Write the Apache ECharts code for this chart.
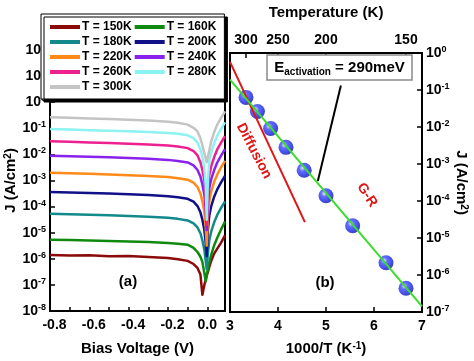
<!DOCTYPE html>
<html><head><meta charset="utf-8">
<script src="https://cdn.jsdelivr.net/npm/echarts@6/dist/echarts.min.js"></script>
<style>html,body{margin:0;padding:0;background:#fff}#c{width:474px;height:361px}</style>
</head><body><div id="c"></div>
<script>
// ---------- Panel (a): J-V curves (values stored as log10 J) ----------
const biasV = [-0.8,-0.7,-0.6,-0.5,-0.4,-0.3,-0.2,-0.15,-0.1,-0.07,-0.05,-0.035,-0.025,-0.015,-0.008,-0.003,0.003,0.01,0.02,0.035,0.05,0.07,0.09];
const curveNames = ['T = 150K','T = 160K','T = 180K','T = 200K','T = 220K','T = 240K','T = 260K','T = 280K','T = 300K'];
const curveColors = ['#8b0a0a','#0f8a0f','#12898a','#101088','#ff8a1a','#8a22ee','#ee2090','#8cf2f2','#c4c4c4'];
const logJ150 = [-5.85,-5.87,-5.86,-5.90,-5.89,-5.93,-5.97,-6.02,-6.08,-6.20,-6.35,-6.60,-7.38,-7.00,-6.80,-6.65,-6.50,-6.32,-6.08,-5.80,-5.62,-5.38,-5.10];
const logJ160 = [-5.27,-5.28,-5.30,-5.32,-5.34,-5.36,-5.39,-5.42,-5.46,-5.58,-5.74,-5.92,-6.12,-6.55,-6.86,-6.60,-6.40,-6.15,-5.85,-5.48,-5.20,-4.88,-4.57];
const logJ180 = [-4.27,-4.29,-4.31,-4.33,-4.36,-4.39,-4.43,-4.47,-4.53,-4.64,-4.80,-5.02,-5.30,-5.65,-6.10,-6.40,-5.80,-5.30,-4.95,-4.60,-4.33,-4.05,-3.80];
const logJ200 = [-3.44,-3.46,-3.48,-3.50,-3.53,-3.56,-3.60,-3.64,-3.70,-3.81,-3.98,-4.22,-4.50,-4.90,-5.40,-5.90,-4.90,-4.35,-3.98,-3.62,-3.35,-3.07,-2.82];
const logJ220 = [-2.70,-2.72,-2.74,-2.77,-2.80,-2.83,-2.87,-2.91,-2.97,-3.08,-3.25,-3.50,-3.80,-4.20,-4.80,-5.50,-4.40,-3.80,-3.42,-3.05,-2.78,-2.50,-2.25];
const logJ240 = [-2.05,-2.07,-2.09,-2.11,-2.14,-2.17,-2.21,-2.25,-2.31,-2.42,-2.60,-2.85,-3.15,-3.55,-4.10,-4.90,-3.90,-3.30,-2.95,-2.60,-2.32,-2.05,-1.80];
const logJ260 = [-1.50,-1.52,-1.54,-1.56,-1.59,-1.62,-1.66,-1.70,-1.76,-1.87,-2.04,-2.30,-2.60,-3.00,-3.60,-4.70,-3.40,-2.80,-2.45,-2.10,-1.82,-1.55,-1.30];
const logJ280 = [-1.03,-1.05,-1.07,-1.09,-1.11,-1.14,-1.18,-1.21,-1.27,-1.38,-1.55,-1.80,-2.10,-2.50,-3.20,-4.50,-3.00,-2.27,-1.92,-1.57,-1.29,-1.02,-0.77];
const logJ300 = [-0.58,-0.60,-0.62,-0.64,-0.67,-0.70,-0.75,-0.79,-0.86,-0.98,-1.12,-1.38,-1.65,-1.95,-2.15,-2.30,-2.10,-1.85,-1.50,-1.15,-0.87,-0.60,-0.35];
const biasTickLabels = [-0.8,-0.6,-0.4,-0.2,0.0];
const biasTicks = [-0.8,-0.7,-0.6,-0.5,-0.4,-0.3,-0.2,-0.1,0.0];
const leftDecades = [1e-8,1e-7,1e-6,1e-5,1e-4,1e-3,1e-2,1e-1,1,10,100];

// ---------- Panel (b): Arrhenius plot ----------
const arrTemps = [300,280,260,240,220,200,180,160,150];
const arrLogJ = [-1.20,-1.58,-2.04,-2.55,-3.17,-3.86,-4.67,-5.67,-6.36];
const diffusionX = [3.0,4.56];
const diffusionLogJ = [-0.24,-4.57];
const grX = [3.0,7.0];
const grLogJ = [-0.72,-6.85];
const arrowX = [5.31,4.83];
const arrowLogJ = [-0.88,-3.46];
const tempTickLabels = [300,250,200,150];
const invTTicks = [3,4,5,6,7];
const rightDecades = [1e-7,1e-6,1e-5,1e-4,1e-3,1e-2,1e-1,1];

const FF = '"Liberation Sans", Arial, sans-serif';
const P = e => Math.pow(10, e);
const logCurves = [logJ150,logJ160,logJ180,logJ200,logJ220,logJ240,logJ260,logJ280,logJ300];

const powRich = {
  b:{fontSize:14,fontWeight:'bold',fontFamily:FF,color:'#000',lineHeight:16},
  s:{fontSize:9,fontWeight:'bold',fontFamily:FF,color:'#000',lineHeight:9,verticalAlign:'top'}
};
const powFmt = v => '{b|10}{s|' + Math.round(Math.log10(v)) + '}';
const nameStyle = {fontSize:15,fontWeight:'bold',fontFamily:FF,color:'#000',
  rich:{s:{fontSize:10,fontWeight:'bold',fontFamily:FF,color:'#000',lineHeight:10,verticalAlign:'top'}}};
const axLine = {show:true,onZero:false,lineStyle:{color:'#000',width:2}};

const series = logCurves.map((arr,k)=>({
  name: curveNames[k], type:'line', xAxisIndex:0, yAxisIndex:0,
  symbol:'none', smooth:false, color: curveColors[k],
  lineStyle:{width:2.5,color:curveColors[k],join:'round'},
  data: biasV.map((v,i)=>[v, P(arr[i])])
}));
series.push({
  type:'line', xAxisIndex:1, yAxisIndex:1, symbol:'none', silent:true,
  lineStyle:{color:'#e01515',width:2},
  data: diffusionX.map((x,i)=>[x,P(diffusionLogJ[i])])
});
series.push({
  type:'line', xAxisIndex:1, yAxisIndex:1, symbol:'none', silent:true,
  lineStyle:{color:'#3ade2a',width:2},
  data: grX.map((x,i)=>[x,P(grLogJ[i])]),
  markLine:{silent:true, symbol:['none','arrow'], symbolSize:[0,12], animation:false,
    lineStyle:{color:'#000',width:2,type:'solid'}, label:{show:false},
    data:[[{coord:[arrowX[0],P(arrowLogJ[0])]},{coord:[arrowX[1],P(arrowLogJ[1])]}]]}
});
series.push({
  type:'scatter', xAxisIndex:1, yAxisIndex:1, symbolSize:15,
  itemStyle:{color:{type:'radial',x:0.38,y:0.35,r:0.7,colorStops:[
    {offset:0,color:'#dde2ff'},{offset:0.3,color:'#3a48ff'},{offset:0.75,color:'#1420e0'},{offset:1,color:'#0a0f9a'}]}},
  data: arrTemps.map((t,i)=>[1000/t, P(arrLogJ[i])])
});

const option = {
  animation:false,
  backgroundColor:'#fff',
  legend:{
    data: curveNames, left:41, top:14, width:178, orient:'horizontal',
    padding:[7,8,6,9], itemGap:3, itemWidth:30, itemHeight:4, icon:'rect',
    backgroundColor:'#fff', borderColor:'#000', borderWidth:1,
    shadowColor:'#000', shadowOffsetX:3, shadowOffsetY:3, shadowBlur:0,
    textStyle:{fontSize:12,fontWeight:'bold',fontFamily:FF,color:'#000',lineHeight:12,padding:[0,0,0,-3]}
  },
  grid:[
    {left:50,top:50,width:175,height:263,show:true,borderColor:'#000',borderWidth:2,backgroundColor:'rgba(0,0,0,0)'},
    {left:230,top:50,width:192,height:263,show:true,borderColor:'#000',borderWidth:2,backgroundColor:'rgba(0,0,0,0)'}
  ],
  xAxis:[
    {gridIndex:0,type:'value',min:-0.8,max:0.09,axisLine:axLine,splitLine:{show:false},
     axisTick:{inside:true,length:4,customValues:biasTicks,lineStyle:{color:'#000',width:1.5}},
     axisLabel:{customValues:biasTickLabels,margin:7,color:'#000',
       formatter:v=> v<0 ? '{n|'+v.toFixed(1)+'}' : '{z|'+Math.abs(v).toFixed(1)+'}',
       rich:{n:{fontSize:14,fontWeight:'bold',fontFamily:FF,color:'#000',padding:[0,0,0,9]},
             z:{fontSize:14,fontWeight:'bold',fontFamily:FF,color:'#000'}}},
     name:'Bias Voltage (V)',nameLocation:'middle',nameGap:30,nameTextStyle:nameStyle},
    {gridIndex:1,type:'value',min:3,max:7,axisLine:axLine,splitLine:{show:false},
     axisTick:{inside:true,length:5,customValues:invTTicks,lineStyle:{color:'#000',width:1.5}},
     axisLabel:{customValues:invTTicks,margin:7,color:'#000',fontSize:14,fontWeight:'bold',fontFamily:FF},
     name:'1000/T (K{s|-1})',nameLocation:'middle',nameGap:29,nameTextStyle:nameStyle},
    {gridIndex:1,type:'value',position:'top',min:3,max:7,axisLine:axLine,splitLine:{show:false},
     axisTick:{inside:true,length:5,customValues:tempTickLabels.map(t=>1000/t),lineStyle:{color:'#000',width:1.5}},
     axisLabel:{customValues:tempTickLabels.map(t=>1000/t),margin:6,color:'#000',fontSize:14,fontWeight:'bold',fontFamily:FF,
       formatter:v=>String(Math.round(1000/v))},
     name:'Temperature (K)',nameLocation:'middle',nameGap:33,nameTextStyle:nameStyle}
  ],
  yAxis:[
    {gridIndex:0,type:'log',logBase:10,min:1e-8,max:100,axisLine:axLine,splitLine:{show:false},
     axisTick:{inside:true,length:5,customValues:leftDecades,lineStyle:{color:'#000',width:1.5}},
     axisLabel:{customValues:leftDecades,margin:4,formatter:powFmt,rich:powRich},
     name:'J (A/cm{s|2})',nameLocation:'middle',nameGap:30,nameTextStyle:nameStyle},
    {gridIndex:1,type:'log',logBase:10,min:1e-7,max:1,position:'right',axisLine:axLine,splitLine:{show:false},
     axisTick:{inside:true,length:5,customValues:rightDecades,lineStyle:{color:'#000',width:1.5}},
     axisLabel:{customValues:rightDecades,margin:4,formatter:powFmt,rich:powRich},
     name:'J (A/cm{s|2})',nameLocation:'middle',nameGap:31,nameRotate:-90,nameTextStyle:nameStyle}
  ],
  graphic:[
    {type:'text',x:128,y:282,z:10,style:{text:'(a)',font:'bold 15px '+FF,fill:'#000',align:'center',verticalAlign:'middle',textAlign:'center',textVerticalAlign:'middle'}},
    {type:'text',x:325,y:283,z:10,style:{text:'(b)',font:'bold 15px '+FF,fill:'#000',align:'center',verticalAlign:'middle',textAlign:'center',textVerticalAlign:'middle'}},
    {type:'text',x:254,y:151,rotation:-1.09,z:10,style:{text:'Diffusion',font:'bold 14px '+FF,fill:'#e01515',align:'center',verticalAlign:'middle',textAlign:'center',textVerticalAlign:'middle'}},
    {type:'text',x:367,y:195,rotation:-0.98,z:10,style:{text:'G-R',font:'bold 14px '+FF,fill:'#e01515',align:'center',verticalAlign:'middle',textAlign:'center',textVerticalAlign:'middle'}},
    {type:'rect',z:10,shape:{x:267,y:55,width:145,height:25},style:{fill:'#fff',stroke:'#8a8a8a',lineWidth:1.5}},
    {type:'text',x:339.5,y:67.5,z:11,style:{
      text:'{e|E}{u|activation}{e| = 290meV}',align:'center',verticalAlign:'middle',textAlign:'center',textVerticalAlign:'middle',
      rich:{e:{fontSize:15,fontWeight:'bold',fontFamily:FF,fill:'#000',color:'#000',lineHeight:20},
            u:{fontSize:10,fontWeight:'bold',fontFamily:FF,fill:'#000',color:'#000',lineHeight:10,verticalAlign:'bottom'}}}}
  ],
  series: series
};
const chart = echarts.init(document.getElementById('c'), null, {renderer:'canvas'});
chart.setOption(option);
</script></body></html>
